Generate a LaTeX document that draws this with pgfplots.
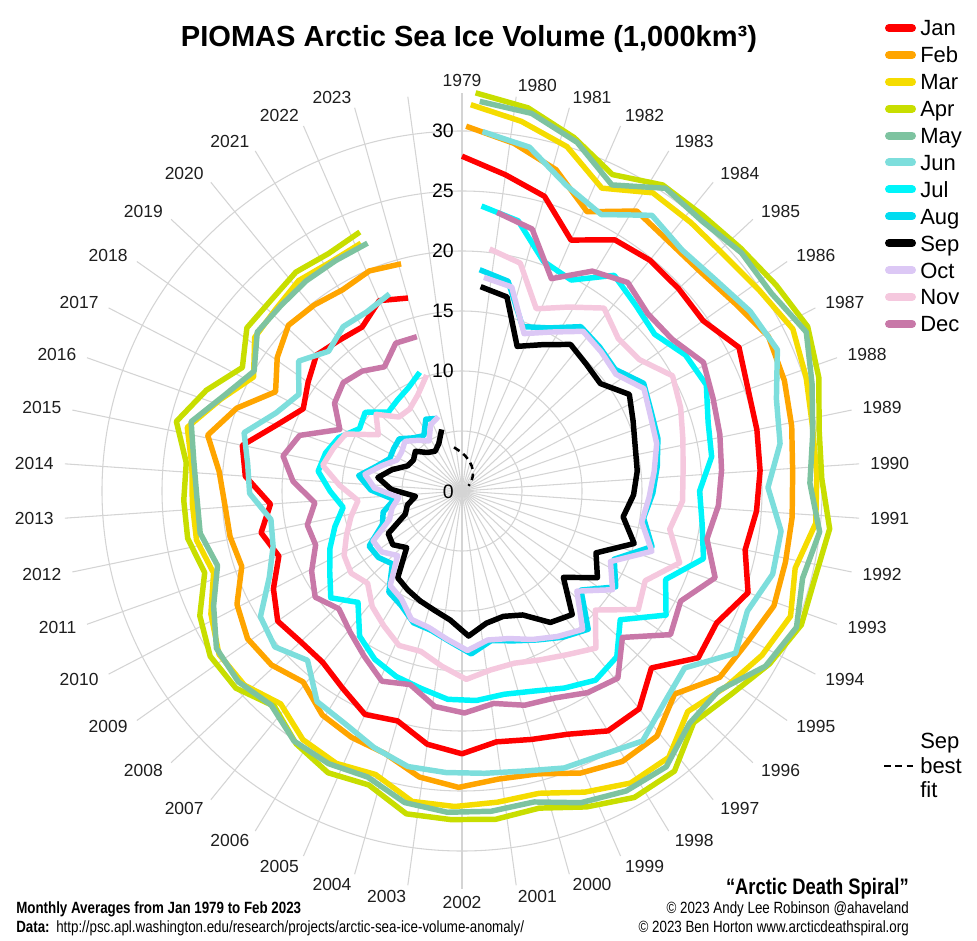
\documentclass[border=0pt]{standalone}
\usepackage{fontspec}
\setmainfont{Liberation Sans}
\newfontfamily\narrow[FakeStretch=0.82]{Liberation Sans}
\usepackage{pgfplots}
\usepackage{pgfplotstable}
\pgfplotsset{compat=1.18}

\definecolor{cJan}{RGB}{255,0,0}
\definecolor{cFeb}{RGB}{255,165,0}
\definecolor{cMar}{RGB}{245,220,0}
\definecolor{cApr}{RGB}{200,222,0}
\definecolor{cMay}{RGB}{125,195,160}
\definecolor{cJun}{RGB}{125,222,220}
\definecolor{cJul}{RGB}{0,245,250}
\definecolor{cAug}{RGB}{0,220,240}
\definecolor{cSep}{RGB}{0,0,0}
\definecolor{cOct}{RGB}{220,200,245}
\definecolor{cNov}{RGB}{245,200,222}
\definecolor{cDec}{RGB}{200,120,168}
\definecolor{gridgray}{RGB}{212,212,212}
\definecolor{labelgray}{RGB}{30,30,30}

% PIOMAS monthly mean Arctic sea ice volume, 1000 km^3
\pgfplotstableread{
yr   jan  feb  mar  apr  may  jun  jul  aug  sep  oct  nov  dec
1979 27.9 30.4 32.2 33.2 32.5 30.0 23.8 18.5 17.1 17.9 20.3 23.4
1980 26.6 29.3 31.2 32.4 32.0 29.2 23.0 17.9 16.6 17.5 19.6 22.6
1981 25.5 27.9 30.0 30.9 30.6 26.9 20.3 14.6 12.9 14.1 16.4 19.2
1982 22.8 25.5 27.8 29.2 28.4 25.8 19.8 15.4 13.9 15.2 17.7 21.3
1983 24.5 27.5 29.5 30.5 30.4 27.9 22.0 16.9 15.2 16.7 19.3 22.2
1984 24.8 27.0 29.4 30.5 30.1 27.2 21.2 16.6 14.8 16.4 18.2 21.4
1985 24.7 27.0 29.4 30.8 30.6 27.5 20.7 16.3 14.6 16.1 18.4 21.6
1986 24.6 27.6 29.9 31.3 30.6 28.3 21.8 17.6 16.1 17.4 20.0 22.8
1987 26.0 28.6 30.7 31.9 31.6 28.8 22.2 17.1 15.4 16.9 19.5 22.3
1988 25.3 28.4 30.2 31.2 30.5 27.3 21.3 16.9 14.9 16.7 18.9 22.0
1989 25.1 28.0 29.7 30.2 29.6 26.8 21.0 16.4 14.7 16.1 18.5 21.7
1990 24.9 27.6 29.6 30.0 29.0 25.5 19.8 15.9 14.3 15.6 18.4 21.4
1991 24.6 27.6 29.6 30.8 30.0 26.8 20.2 15.3 13.6 15.2 17.6 20.8
1992 24.1 27.6 28.5 30.3 29.3 26.8 20.9 16.5 15.0 16.6 19.1 22.3
1993 25.3 27.7 29.3 30.4 30.1 25.8 18.5 13.9 12.3 13.7 17.0 20.4
1994 23.9 26.9 28.5 29.4 29.2 26.5 19.9 15.1 13.4 15.0 17.7 21.1
1995 24.1 26.5 27.4 28.1 27.1 23.7 17.0 12.9 11.1 12.7 14.9 18.1
1996 21.6 24.5 26.3 27.3 27.1 24.4 18.9 15.6 13.8 15.3 17.2 20.3
1997 23.4 26.1 28.1 29.3 28.6 25.7 19.3 14.8 13.2 14.5 16.2 19.8
1998 23.4 26.2 28.1 29.3 28.5 24.9 18.5 13.9 11.5 13.7 15.5 18.9
1999 22.1 25.5 27.1 28.3 27.8 24.6 17.7 13.2 11.0 12.9 15.0 18.6
2000 21.5 24.4 26.0 27.2 26.6 23.9 17.3 12.7 11.2 12.6 15.1 17.9
2001 21.1 24.2 26.1 27.5 26.8 23.6 17.5 13.6 12.1 13.3 15.7 18.5
2002 21.9 24.7 26.3 27.4 26.8 23.5 17.4 12.6 10.8 12.4 14.7 18.1
2003 21.3 24.1 26.2 27.3 26.4 23.4 16.8 11.9 10.2 11.7 13.8 16.7
2004 19.9 22.8 24.7 25.7 25.1 22.6 16.4 11.7  9.8 11.5 13.9 17.2
2005 20.3 22.5 25.0 26.0 25.3 21.7 15.8 10.8  9.4 10.3 13.0 16.0
2006 19.2 22.0 24.6 25.2 25.1 21.3 14.8 10.4  9.0  9.9 12.2 15.0
2007 18.4 20.7 23.3 23.8 23.9 19.1 12.7  8.4  6.6  7.6 11.0 14.2
2008 18.4 21.5 24.3 25.0 24.5 20.3 14.1  8.9  7.3  8.4 11.5 15.1
2009 18.8 21.7 24.4 25.1 24.3 19.8 12.9  9.0  7.1  8.5 11.2 14.2
2010 17.7 21.0 23.3 24.2 22.8 17.6 12.0  7.2  5.1  6.5 10.3 13.0
2011 16.2 19.4 21.8 22.5 21.3 16.4 11.0  6.8  4.7  6.0  9.5 13.2
2012 17.1 19.7 22.5 23.2 22.1 16.1 10.0  5.7  3.9  5.3  8.7 12.3
2013 16.0 19.8 22.5 23.2 22.1 17.7 11.0  7.6  5.9  7.3 10.2 14.1
2014 18.1 20.3 22.6 23.1 22.5 18.0 12.1  8.7  7.1  8.2 11.8 15.2
2015 18.7 21.7 23.5 24.5 23.3 18.8 11.8  7.4  6.1  7.0 11.3 14.3
2016 16.4 20.0 21.5 22.9 21.3 16.8 11.2  6.6  5.0  6.0 10.8 11.4
2017 14.9 17.6 19.8 21.0 20.0 15.8 10.0  6.7  4.8  6.0  8.4 12.9
2018 15.7 19.0 21.5 22.5 21.6 17.4 10.4  6.8  5.1  6.3  9.6 13.4
2019 16.6 20.0 21.7 22.5 21.6 16.1  9.0  6.0  4.3  5.6  8.1 13.0
2020 16.2 19.8 22.2 22.9 21.8 16.9  9.3  5.6  4.0  5.0  8.1 12.2
2021 16.0 19.5 22.0 22.7 21.9 16.9  9.7  6.7  4.4  6.1  8.8 13.5
2022 17.3 19.9 22.3 23.2 22.1 17.5 10.5  6.4  5.4  6.5 10.1 13.4
2023 16.7 19.6 nan  nan  nan  nan  nan  nan  nan  nan  nan  nan
}\piomas

% September trend, extended past the last observation
\pgfplotstableread{
yr      r
2023.67 3.7
2024.67 3.3
2025.67 2.95
2026.67 2.6
2027.67 2.25
2028.67 1.9
2029.67 1.5
2030.67 1.1
2031.67 0.7
}\sepfit

% one spoke per year, 46 per turn; month m sits (m-1)/12 of a step past its year
\newcommand{\monthline}[4]{%
  \addplot[#2, line width=4.1pt, line join=round, data cs=polar, #4]
    table[x expr={90-(\thisrow{yr}-1979+#3/12)*360/46}, y=#1] {\piomas};}

\begin{document}
\begin{tikzpicture}[x=0.75pt,y=-0.75pt]
\useasboundingbox (0,0) rectangle (977,941);

% polar grid
\foreach \r in {60,120,180,240,300,360}
  \draw[gridgray, line width=0.8pt] (462,491) circle [radius=\r];
\foreach \k in {0,...,45}
  \draw[gridgray, line width=0.8pt] (462,491) -- ++({398*sin(\k*360/46)},{-398*cos(\k*360/46)});

\begin{axis}[at={(0pt,-705.75pt)}, anchor=south west, scale only axis,
  width=732.75pt, height=705.75pt,
  xmin=-38.5, xmax=42.916667, ymin=-37.5, ymax=40.916667,
  hide axis, clip=false]
\monthline{jan}{cJan}{0}{}
\monthline{feb}{cFeb}{1}{}
\monthline{mar}{cMar}{2}{skip coords between index={44}{45}}
\monthline{apr}{cApr}{3}{skip coords between index={44}{45}}
\monthline{may}{cMay}{4}{skip coords between index={44}{45}}
\monthline{jun}{cJun}{5}{skip coords between index={44}{45}}
\monthline{jul}{cJul}{6}{skip coords between index={44}{45}}
\monthline{aug}{cAug}{7}{skip coords between index={44}{45}}
\monthline{sep}{cSep}{8}{skip coords between index={44}{45}}
\monthline{oct}{cOct}{9}{skip coords between index={44}{45}}
\monthline{nov}{cNov}{10}{skip coords between index={44}{45}}
\monthline{dec}{cDec}{11}{skip coords between index={44}{45}}
\addplot[black, line width=1.9pt, dash pattern=on 5pt off 3.5pt, data cs=polar]
  table[x expr={90-(\thisrow{yr}-1979)*360/46}, y=r] {\sepfit};
\end{axis}

% year labels round the rim: start-aligned on the right, end-aligned on the left
\foreach \k in {0,...,44} {
  \pgfmathsetmacro\a{\k*360/46}
  \pgfmathtruncatemacro\yy{1979+\k}
  \ifnum\k=0 \def\anc{center}\def\rr{411}\else
  \ifnum\k=23 \def\anc{center}\def\rr{411}\else
  \ifnum\k<23 \def\anc{west}\def\rr{409}\else \def\anc{east}\def\rr{409}\fi\fi\fi
  \node[anchor=\anc, inner sep=0pt, text=labelgray, font=\fontsize{13.1}{15}\selectfont]
    at ({462+\rr*sin(\a)},{491-\rr*cos(\a)}) {\yy};
}

% radial scale
\foreach \v in {10,15,20,25,30}
  \node[anchor=east, inner sep=0pt, font=\fontsize{14.6}{16}\selectfont] at (454,{491-12*\v}) {\v};
\node[anchor=east, inner sep=0pt, font=\fontsize{14.6}{16}\selectfont] at (454,492) {0};

% title
\node[anchor=base, inner sep=0pt, font=\bfseries\fontsize{21.8}{24}\selectfont] at (469,46.4)
  {PIOMAS Arctic Sea Ice Volume (1,000km³)};

% legend
\foreach \name/\col [count=\i from 0] in {Jan/cJan,Feb/cFeb,Mar/cMar,Apr/cApr,May/cMay,Jun/cJun,Jul/cJul,Aug/cAug,Sep/cSep,Oct/cOct,Nov/cNov,Dec/cDec} {
  \draw[\col, line width=6pt, line cap=round] (889,{28+26.9*\i}) -- (912,{28+26.9*\i});
  \node[anchor=base west, inner sep=0pt, font=\fontsize{16.5}{18}\selectfont] at (920,{35.9+26.9*\i}) {\name};
}
\draw[black, line width=2pt, dash pattern=on 5pt off 3.5pt] (884,766) -- (913,766);
\node[anchor=base west, inner sep=0pt, font=\fontsize{16.5}{18}\selectfont] at (920,748) {Sep};
\node[anchor=base west, inner sep=0pt, font=\fontsize{16.5}{18}\selectfont] at (920,773) {best};
\node[anchor=base west, inner sep=0pt, font=\fontsize{16.5}{18}\selectfont] at (920,797) {fit};

% credits
\node[anchor=base west, inner sep=0pt, font=\narrow\bfseries\fontsize{12.2}{14}\selectfont] at (16,913)
  {Monthly Averages from Jan 1979 to Feb 2023};
\node[anchor=base west, inner sep=0pt, font=\narrow\fontsize{12.2}{14}\selectfont] at (16,932)
  {\textbf{Data:}\hspace{5pt}http://psc.apl.washington.edu/research/projects/arctic-sea-ice-volume-anomaly/};
\node[anchor=base east, inner sep=0pt, font=\narrow\bfseries\fontsize{16.8}{19}\selectfont] at (909,894)
  {“Arctic Death Spiral”};
\node[anchor=base east, inner sep=0pt, font=\narrow\fontsize{12.2}{14}\selectfont] at (909,913)
  {© 2023 Andy Lee Robinson @ahaveland};
\node[anchor=base east, inner sep=0pt, font=\narrow\fontsize{12.2}{14}\selectfont] at (909,932)
  {© 2023 Ben Horton www.arcticdeathspiral.org};
\end{tikzpicture}
\end{document}
